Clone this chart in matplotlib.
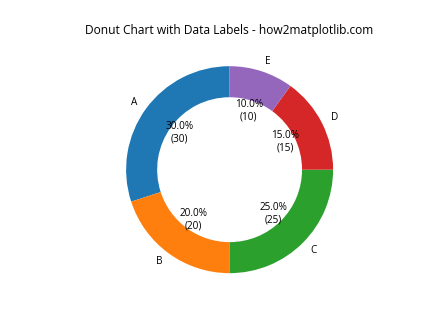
import matplotlib
matplotlib.use("Agg")
import matplotlib.pyplot as plt

plt.rcParams['font.family'] = ['Open Sans', 'DejaVu Sans']

labels = ['A', 'B', 'C', 'D', 'E']
sizes = [30, 20, 25, 15, 10]


def make_autopct(values):
    def my_autopct(pct):
        total = sum(values)
        val = int(round(pct * total / 100.0))
        return f'{pct:.1f}%\n({val:d})'
    return my_autopct


fig, ax = plt.subplots(figsize=(6.4, 4.8), dpi=70)
ax.pie(sizes, labels=labels, autopct=make_autopct(sizes), startangle=90,
       wedgeprops=dict(width=0.3), textprops=dict(fontsize=10.3))
ax.set_title('Donut Chart with Data Labels - how2matplotlib.com', fontsize=12.4)

plt.savefig('out.png')
